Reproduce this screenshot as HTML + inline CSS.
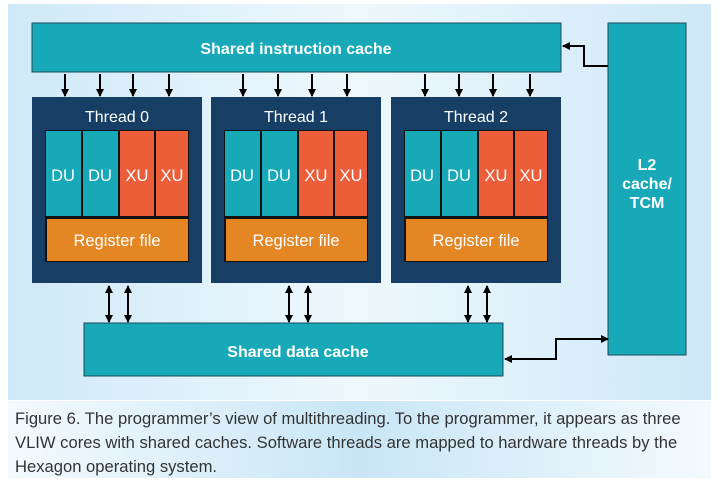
<!DOCTYPE html>
<html><head><style>
body{margin:0;width:720px;height:485px;background:#fff;overflow:hidden}
svg{display:block}
text{font-family:"Liberation Sans",sans-serif}
</style></head><body>
<svg width="720" height="485" viewBox="0 0 720 485">
<defs>
<linearGradient id="bg" x1="0" y1="0" x2="1" y2="0">
<stop offset="0" stop-color="#cfe9f8"/><stop offset="0.5" stop-color="#eef8fd"/><stop offset="1" stop-color="#cde8f7"/>
</linearGradient>
<linearGradient id="cap" x1="0" y1="0" x2="1" y2="0">
<stop offset="0" stop-color="#f3fafd"/><stop offset="0.5" stop-color="#c9e6f6"/><stop offset="1" stop-color="#f3fafd"/>
</linearGradient>
<marker id="a" markerWidth="8" markerHeight="8" refX="7" refY="4" orient="auto" markerUnits="userSpaceOnUse"><path d="M0,0 L8,4 L0,8 z" fill="#000"/></marker>
<marker id="s" markerWidth="8" markerHeight="8" refX="1" refY="4" orient="auto" markerUnits="userSpaceOnUse"><path d="M8,0 L0,4 L8,8 z" fill="#000"/></marker>
</defs>
<rect x="8" y="4" width="703" height="396" fill="url(#bg)"/>
<rect x="8" y="401" width="703" height="77" fill="url(#cap)"/>
<rect x="32" y="23" width="529" height="49" fill="#17a9b8" stroke="#1d4c5a" stroke-width="1"/>
<text x="296" y="54" font-size="16" font-weight="bold" fill="#fff" text-anchor="middle">Shared instruction cache</text>
<rect x="608" y="23" width="78" height="332" fill="#17a9b8" stroke="#1d4c5a" stroke-width="1"/>
<text x="647" y="170" font-size="16" font-weight="bold" fill="#fff" text-anchor="middle">L2</text>
<text x="647" y="189" font-size="16" font-weight="bold" fill="#fff" text-anchor="middle">cache/</text>
<text x="647" y="208" font-size="16" font-weight="bold" fill="#fff" text-anchor="middle">TCM</text>
<rect x="84" y="323" width="419" height="53" fill="#17a9b8" stroke="#1d4c5a" stroke-width="1"/>
<text x="298" y="357" font-size="16" font-weight="bold" fill="#fff" text-anchor="middle">Shared data cache</text>
<g stroke="#000" stroke-width="2" fill="none">
<path d="M608,66 H584 V46 H563" marker-end="url(#a)"/>
<path d="M608,339 H556 V359 H505" marker-end="url(#a)" marker-start="url(#s)"/>
</g>
<g font-size="16.5" fill="#fff" text-anchor="middle">
<g transform="translate(32,0)">
<rect x="0" y="97" width="170" height="186" fill="#173f66"/>
<text x="85" y="122" font-size="16">Thread 0</text>
<rect x="13" y="130" width="144" height="132" fill="#111"/>
<rect x="14" y="131" width="35" height="85" fill="#17a9b8"/><rect x="51" y="131" width="35" height="85" fill="#17a9b8"/>
<rect x="88" y="131" width="34" height="85" fill="#ec5e3a"/><rect x="124" y="131" width="32" height="85" fill="#ec5e3a"/>
<text x="31" y="181">DU</text><text x="68" y="181">DU</text><text x="105" y="181">XU</text><text x="140" y="181">XU</text>
<rect x="15" y="219" width="141" height="42" fill="#e58625"/>
<text x="85" y="246">Register file</text>
</g>
<g transform="translate(211,0)">
<rect x="0" y="97" width="170" height="186" fill="#173f66"/>
<text x="85" y="122" font-size="16">Thread 1</text>
<rect x="13" y="130" width="144" height="132" fill="#111"/>
<rect x="14" y="131" width="35" height="85" fill="#17a9b8"/><rect x="51" y="131" width="35" height="85" fill="#17a9b8"/>
<rect x="88" y="131" width="34" height="85" fill="#ec5e3a"/><rect x="124" y="131" width="32" height="85" fill="#ec5e3a"/>
<text x="31" y="181">DU</text><text x="68" y="181">DU</text><text x="105" y="181">XU</text><text x="140" y="181">XU</text>
<rect x="15" y="219" width="141" height="42" fill="#e58625"/>
<text x="85" y="246">Register file</text>
</g>
<g transform="translate(391,0)">
<rect x="0" y="97" width="170" height="186" fill="#173f66"/>
<text x="85" y="122" font-size="16">Thread 2</text>
<rect x="13" y="130" width="144" height="132" fill="#111"/>
<rect x="14" y="131" width="35" height="85" fill="#17a9b8"/><rect x="51" y="131" width="35" height="85" fill="#17a9b8"/>
<rect x="88" y="131" width="34" height="85" fill="#ec5e3a"/><rect x="124" y="131" width="32" height="85" fill="#ec5e3a"/>
<text x="31" y="181">DU</text><text x="68" y="181">DU</text><text x="105" y="181">XU</text><text x="140" y="181">XU</text>
<rect x="15" y="219" width="141" height="42" fill="#e58625"/>
<text x="85" y="246">Register file</text>
</g>
</g>
<g stroke="#000" stroke-width="2">
<line x1="65" y1="74" x2="65" y2="96" marker-end="url(#a)"/><line x1="100" y1="74" x2="100" y2="96" marker-end="url(#a)"/>
<line x1="133" y1="74" x2="133" y2="96" marker-end="url(#a)"/><line x1="169" y1="74" x2="169" y2="96" marker-end="url(#a)"/>
<line x1="243" y1="74" x2="243" y2="96" marker-end="url(#a)"/><line x1="278" y1="74" x2="278" y2="96" marker-end="url(#a)"/>
<line x1="312" y1="74" x2="312" y2="96" marker-end="url(#a)"/><line x1="347" y1="74" x2="347" y2="96" marker-end="url(#a)"/>
<line x1="425" y1="74" x2="425" y2="96" marker-end="url(#a)"/><line x1="459" y1="74" x2="459" y2="96" marker-end="url(#a)"/>
<line x1="493" y1="74" x2="493" y2="96" marker-end="url(#a)"/><line x1="530" y1="74" x2="530" y2="96" marker-end="url(#a)"/>
<line x1="109" y1="286" x2="109" y2="322" marker-end="url(#a)" marker-start="url(#s)"/>
<line x1="128" y1="286" x2="128" y2="322" marker-end="url(#a)" marker-start="url(#s)"/>
<line x1="289" y1="286" x2="289" y2="322" marker-end="url(#a)" marker-start="url(#s)"/>
<line x1="308" y1="286" x2="308" y2="322" marker-end="url(#a)" marker-start="url(#s)"/>
<line x1="468" y1="286" x2="468" y2="322" marker-end="url(#a)" marker-start="url(#s)"/>
<line x1="487" y1="286" x2="487" y2="322" marker-end="url(#a)" marker-start="url(#s)"/>
</g>
<g font-size="16.6" fill="#333">
<text x="15" y="424">Figure 6.  The programmer’s view of multithreading. To the programmer, it appears as three</text>
<text x="15" y="448">VLIW cores with shared caches. Software threads are mapped to hardware threads by the</text>
<text x="15" y="472">Hexagon operating system.</text>
</g>
</svg>
</body></html>
